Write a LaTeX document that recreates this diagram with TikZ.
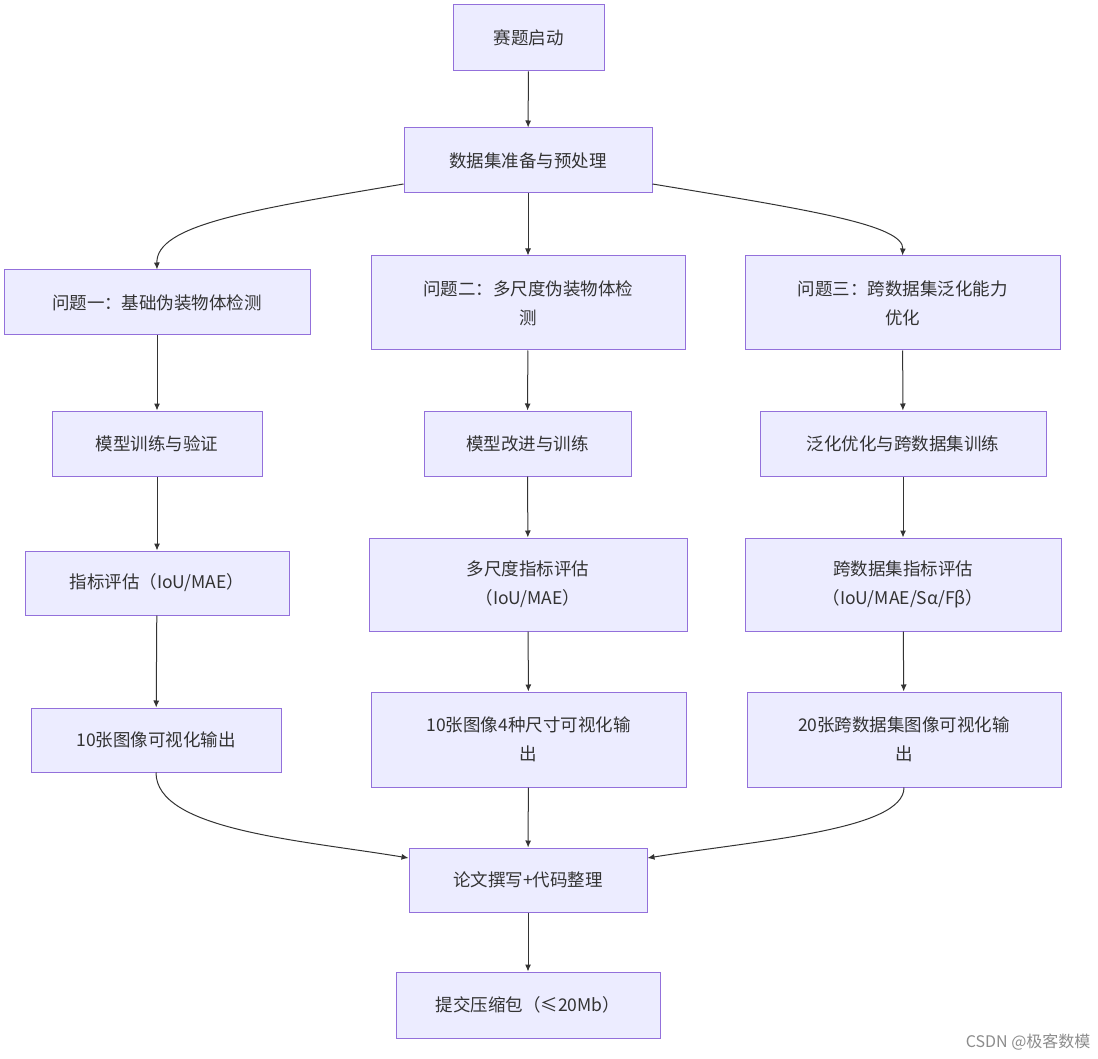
\documentclass[tikz,border=0pt]{standalone}
\usepackage{fontspec}
\setmainfont{Noto Sans CJK SC}
\usetikzlibrary{arrows.meta}
\definecolor{bfill}{HTML}{ECECFF}
\definecolor{bdraw}{HTML}{9370DB}
\begin{document}
\begin{tikzpicture}[x=1pt,y=-1pt,
  box/.style={draw=bdraw,fill=bfill,line width=1pt,align=center,font=\fontsize{17.5}{29}\selectfont,text=black!80},
  arr/.style={draw=black!80,line width=1pt,-{Latex[length=7pt,width=6pt]}}]
\useasboundingbox (0,0) rectangle (1098,1059);
\newcommand\bx[6]{\node[box,minimum width=#4-#2,minimum height=#5-#3,inner sep=0pt] (#1) at ({(#2+#4)/2},{(#3+#5)/2}) {#6};}
\bx{s}{453}{5}{604}{71}{赛题启动}
\bx{d}{404}{128}{652}{193}{数据集准备与预处理}
\bx{q1}{4}{270}{310}{335}{问题一：基础伪装物体检测}
\bx{q2}{371}{256}{685}{350}{问题二：多尺度伪装物体检\\测}
\bx{q3}{745}{256}{1060}{350}{问题三：跨数据集泛化能力\\优化}
\bx{m1}{52}{411}{262}{476}{模型训练与验证}
\bx{m2}{424}{411}{631}{476}{模型改进与训练}
\bx{m3}{760}{411}{1046}{476}{泛化优化与跨数据集训练}
\bx{e1}{25}{551}{289}{615}{指标评估（IoU/MAE）}
\bx{e2}{369}{538}{687}{631}{多尺度指标评估\\（IoU/MAE）}
\bx{e3}{745}{538}{1061}{631}{跨数据集指标评估\\（IoU/MAE/Sα/Fβ）}
\bx{v1}{31}{708}{281}{772}{10张图像可视化输出}
\bx{v2}{371}{692}{686}{787}{10张图像4种尺寸可视化输\\出}
\bx{v3}{747}{692}{1061}{787}{20张跨数据集图像可视化输\\出}
\bx{p}{409}{848}{647}{912}{论文撰写+代码整理}
\bx{t}{396}{972}{660}{1038}{提交压缩包（≤20Mb）}
\draw[arr] (s) -- (d);
\draw[arr] (d.west |- 0,184) .. controls (250,210) and (156,225) .. (q1.north);
\draw[arr] (d) -- (q2);
\draw[arr] (d.east |- 0,184) .. controls (810,210) and (904,225) .. (q3.north);
\draw[arr] (q1) -- (m1); \draw[arr] (m1) -- (e1); \draw[arr] (e1) -- (v1);
\draw[arr] (q2) -- (m2); \draw[arr] (m2) -- (e2); \draw[arr] (e2) -- (v2);
\draw[arr] (q3) -- (m3); \draw[arr] (m3) -- (e3); \draw[arr] (e3) -- (v3);
\draw[arr] (v1.south) .. controls (156,830) and (300,840) .. (p.west |- 0,858);
\draw[arr] (v2) -- (p);
\draw[arr] (v3.south) .. controls (904,830) and (760,840) .. (p.east |- 0,858);
\draw[arr] (p) -- (t);
\node[font=\fontsize{16}{18}\selectfont,text=black!45,anchor=east] (w) at (1094,1042) {CSDN @极客数模};
\end{tikzpicture}
\end{document}
